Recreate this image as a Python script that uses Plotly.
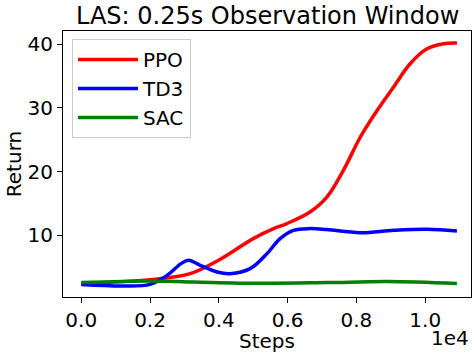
import plotly.graph_objects as go

steps_ppo = [0, 0.2, 0.317, 0.399, 0.5, 0.559, 0.598, 0.665, 0.714, 0.762, 0.811, 0.86, 0.908, 0.956, 1.005, 1.053, 1.092]
ppo = [2.42, 3.04, 3.98, 6.08, 9.48, 11.05, 11.84, 13.66, 16.0, 20.2, 25.4, 29.6, 33.3, 36.95, 39.3, 40.1, 40.2]

steps_td3 = [0, 0.125, 0.2, 0.25, 0.29, 0.312, 0.346, 0.395, 0.433, 0.491, 0.54, 0.578, 0.617, 0.665, 0.714, 0.81, 0.908, 1.005, 1.092]
td3 = [2.27, 2.04, 2.3, 3.72, 5.55, 6.08, 5.29, 4.24, 3.98, 4.76, 7.12, 9.48, 10.78, 11.05, 10.9, 10.42, 10.78, 10.94, 10.68]

steps_sac = [0, 0.2, 0.326, 0.52, 0.714, 0.89, 1.092]
sac = [2.57, 2.83, 2.67, 2.46, 2.57, 2.73, 2.42]

xticks = [0.0, 0.2, 0.4, 0.6, 0.8, 1.0]
xticklabels = ["0.0", "0.2", "0.4", "0.6", "0.8", "1.0"]
yticks = [10, 20, 30, 40]

FONT = "DejaVu Sans"

fig = go.Figure()
for name, xs, ys, col in [("PPO", steps_ppo, ppo, "#ff0000"),
                          ("TD3", steps_td3, td3, "#0000ff"),
                          ("SAC", steps_sac, sac, "#008000")]:
    fig.add_trace(go.Scatter(x=xs, y=ys, mode="lines", name=name,
                             line=dict(color=col, width=3.5, shape="spline", smoothing=1.0)))

fig.update_layout(
    width=474, height=353,
    margin=dict(l=63, r=3, t=31, b=56),
    plot_bgcolor="white", paper_bgcolor="white",
    font=dict(family=FONT, size=20, color="black"),
    showlegend=True,
    legend=dict(x=0.022, y=0.97, xanchor="left", yanchor="top",
                bgcolor="rgba(255,255,255,0.8)", bordercolor="#cccccc", borderwidth=1,
                font=dict(size=20), tracegroupgap=0, itemwidth=60),
)
fig.update_xaxes(range=[-0.053, 1.133], tickvals=xticks, ticktext=xticklabels,
                 showline=True, mirror=True, linecolor="black", linewidth=1,
                 ticks="outside", ticklen=5, tickcolor="black", showgrid=False, zeroline=False,
                 title=dict(text="Steps", standoff=2, font=dict(size=20)))
fig.update_yaxes(range=[0.31, 42.09], tickvals=yticks,
                 showline=True, mirror=True, linecolor="black", linewidth=1,
                 ticks="outside", ticklen=5, tickcolor="black", showgrid=False, zeroline=False,
                 title=dict(text="Return", standoff=0, font=dict(size=20)))
fig.add_annotation(text="LAS: 0.25s Observation Window", xref="paper", yref="paper",
                   x=0.5, y=1.0, yshift=0, xanchor="center", yanchor="bottom", borderpad=0,
                   showarrow=False, font=dict(size=24, family=FONT))
fig.add_annotation(text="1e4", xref="paper", yref="paper", x=1.0, y=0, yshift=-27,
                   xanchor="right", yanchor="top", showarrow=False, font=dict(size=20, family=FONT))

fig.write_html("out.html")
